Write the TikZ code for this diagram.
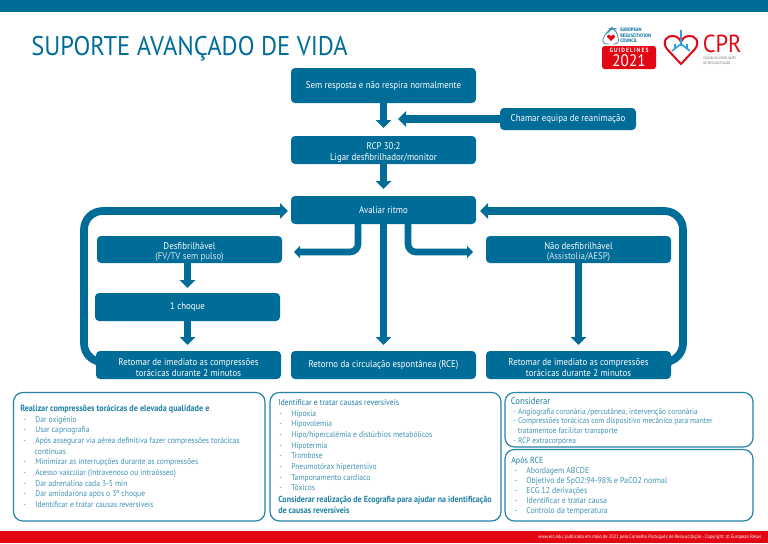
\documentclass[tikz,border=0pt]{standalone}
\usepackage{fontspec}
\setmainfont[FakeStretch=0.91]{PT Sans}
\usetikzlibrary{arrows.meta,calc}
\definecolor{ercblue}{HTML}{006C98}
\definecolor{ercred}{HTML}{E30613}
\definecolor{listblue}{HTML}{3F93B5}
\definecolor{headblue}{HTML}{1F7FA6}
\definecolor{skyblue}{HTML}{2F9FDC}
\tikzset{
 x=0.75pt,y=-0.75pt,
 flowbox/.style={fill=ercblue,rounded corners=3pt,text=white,align=center,inner sep=0pt,font=\fontsize{7.3}{7.8}\selectfont},
 listbox/.style={draw=ercblue!85!white,line width=0.9pt,rounded corners=7pt,fill=white},
 listtext/.style={text=listblue,anchor=north west,inner sep=0pt,align=left,font=\fontsize{6.25}{8}\selectfont},
 listhead/.style={text=headblue,anchor=north west,inner sep=0pt,align=left,font=\bfseries\fontsize{6.7}{8}\selectfont},
 flow/.style={draw=ercblue,line width=5.6pt,-{Triangle[width=11.5pt,length=6pt]}},
 loopflow/.style={draw=ercblue,line width=5.8pt,rounded corners=14pt,-{Triangle[width=11.5pt,length=6pt]}},
 branchflow/.style={draw=ercblue,line width=5pt,rounded corners=6pt,-{Triangle[width=9pt,length=4.5pt]}},
}
\newcommand{\flowboxat}[6]{\node[flowbox,minimum width=#4*0.75pt,minimum height=#5*0.75pt] (#1) at (#2,#3) {#6};}
\newcommand{\dashitem}{-\hspace{7pt}}
\newcommand{\tightitem}{-\hspace{1.6pt}}
\newcommand{\topfix}{\rule{0pt}{9pt}}
\begin{document}
\begin{tikzpicture}
\useasboundingbox (0,0) rectangle (768,543);
\fill[ercblue] (0,0) rectangle (768,12);
\node[anchor=base west,inner sep=0pt,text=ercblue,font=\fontsize{20.25}{22}\selectfont] (title) at (31,55.5) {SUPORTE AVANÇADO DE VIDA};
% ERC logo
\fill[ercred,rounded corners=2pt] (602,46) rectangle (656,69);
\node[text=white,inner sep=0pt,font=\bfseries\fontsize{4.6}{5}\selectfont\addfontfeature{LetterSpace=18}] (gl) at (629,50.5) {GUIDELINES};
\node[text=white,inner sep=0pt,font=\fontsize{12.5}{13}\selectfont] (yr) at (629,61) {2021};
\draw[draw=listblue,line width=0.6pt,rounded corners=3pt] (609,44) -- (602,44) -- (604,35) -- (610,30) -- (611,28.5) -- (613,28.5) -- (615,30) -- (618,35) -- (619,44) -- (613,44);
\fill[ercred] (611,41) -- (607,37) .. controls (607,34) and (610,34) .. (611,36) .. controls (612,34) and (615,34) .. (615,37) -- cycle;
\node[anchor=north west,inner sep=0pt,align=left,text=ercblue,font=\bfseries\fontsize{3.7}{4.2}\selectfont] (ercname) at (620,28) {EUROPEAN\\RESUSCITATION\\COUNCIL};
% CPR logo
\draw[draw=ercred,line width=1.5pt,line join=round] (681,64) -- (667,49) .. controls (661,41) and (668,35) .. (673,36) .. controls (677,36) and (680,39) .. (681,42) .. controls (682,39) and (685,36) .. (689,36) .. controls (694,35) and (701,41) .. (695,49) -- cycle;
\draw[draw=skyblue,line width=1.2pt] (681,30) -- (681,46) (681,44) -- (672,51) (681,44) -- (690,51) (675,44) -- (675,49) (687,44) -- (687,49);
\node[anchor=base west,inner sep=0pt,text=ercred,font=\fontsize{18.5}{18}\selectfont] (cprtxt) at (702.5,52.5) {CPR};
\node[anchor=north west,inner sep=0pt,align=left,text=black!60,font=\fontsize{2.6}{3.2}\selectfont] (cprsub) at (703,56.5) {CONSELHO PORTUGUÊS\\DE RESSUSCITAÇÃO};
\flowboxat{start}{383.5}{85.5}{185}{35}{Sem resposta e não respira normalmente}
\flowboxat{team}{568}{119}{136}{22}{Chamar equipa de reanimação}
\flowboxat{rcp}{383.5}{150}{185}{28}{\topfix RCP 30:2\\Ligar desfibrilhador/monitor}
\flowboxat{eval}{383.5}{210}{185}{28}{Avaliar ritmo}
\flowboxat{shock}{189.5}{249.5}{185}{27}{\topfix Desfibrilhável\\{\color{white!85!ercblue}(FV/TV sem pulso)}}
\flowboxat{one}{187.5}{307}{185}{28}{1 choque}
\flowboxat{resL}{188.5}{365}{185}{28}{\topfix Retomar de imediato as compressões\\torácicas durante 2 minutos}
\flowboxat{rce}{383.5}{365}{185}{28}{Retorno da circulação espontânea (RCE)}
\flowboxat{noshock}{578.5}{249.5}{185}{27}{\topfix Não desfibrilhável\\{\color{white!85!ercblue}(Assistolia/AESP)}}
\flowboxat{resR}{578.5}{365}{185}{28}{\topfix Retomar de imediato as compressões\\torácicas durante 2 minutos}
% free arrow tips
\coordinate (tipA) at (383.5,128);
\coordinate (tipTeam) at (398,119);
\coordinate (tipB) at (383.5,189);
\coordinate (tipC) at (187.5,288);
\coordinate (tipD) at (187.5,345);
\coordinate (tipE) at (383.5,345);
\coordinate (tipF) at (578.5,345);
\coordinate (tipG) at (288,211);
\coordinate (tipH) at (480,211);
\coordinate (tipI) at (294,252);
\coordinate (tipJ) at (473,252);
\coordinate (colI) at (358,224);
\coordinate (colJ) at (408,224);
\coordinate (loopL) at (84,300);
\coordinate (loopR) at (683,300);
\draw[flow] (start.south) -- (tipA);
\draw[flow] (team.west) -- (tipTeam);
\draw[flow] (rcp.south) -- (tipB);
\draw[flow] (shock.south -| tipC) -- (tipC);
\draw[flow] (one.south) -- (tipD);
\draw[flow] (eval.south) -- (tipE);
\draw[flow] (noshock.south) -- (tipF);
\draw[loopflow] (resL.west |- 0,362) -- (loopL |- 0,362) -- (loopL |- tipG) -- (tipG);
\draw[loopflow] (resR.east |- 0,362) -- (loopR |- 0,362) -- (loopR |- tipH) -- (tipH);
\draw[branchflow] (colI) |- (tipI);
\draw[branchflow] (colJ) |- (tipJ);
% lists
\draw[listbox] (13.5,392.5) rectangle (265,521);
\draw[listbox] (270,392.5) rectangle (501,521);
\draw[listbox] (505,392.5) rectangle (753,447);
\draw[listbox] (505,449.5) rectangle (753,521);
\node[listhead] (l0) at (20,405) {Realizar compressões torácicas de elevada qualidade e};
\node[listtext] (l1) at (23,416) {\dashitem Dar oxigénio\\\dashitem Usar capnografia\\\dashitem Após assegurar via aérea definitiva fazer compressões torácicas\\\hspace{8.6pt}continuas\\\dashitem Minimizar as interrupções durante as compressões\\\dashitem Acesso vascular (Intravenoso ou intraósseo)\\\dashitem Dar adrenalina cada 3-5 min\\\dashitem Dar amiodarona após o 3º choque\\\dashitem Identificar e tratar causas reversíveis};
\node[listhead,font=\fontsize{6.4}{8}\selectfont] (m0) at (278,399) {Identificar e tratar causas reversíveis};
\node[listtext] (m1) at (279,410) {\dashitem Hipoxia\\\dashitem Hipovolemia\\\dashitem Hipo/hipercalémia e distúrbios metabólicos\\\dashitem Hipotermia\\\dashitem Trombose\\\dashitem Pneumotórax hipertensivo\\\dashitem Tamponamento cardíaco\\\dashitem Tóxicos};
\node[listhead,font=\bfseries\fontsize{6.6}{8}\selectfont] (m2) at (278,496) {Considerar realização de Ecografia para ajudar na identificação\\de causas reversíveis};
\node[listhead,font=\fontsize{7.2}{8}\selectfont] (r0) at (510.5,397) {Considerar};
\node[listtext,font=\fontsize{6.1}{7.3}\selectfont] (r1) at (513,408) {\tightitem Angiografia coronária /percutânea, intervenção coronária\\\tightitem Compressões torácicas com dispositivo mecânico para manter\\\hspace{3.4pt}tratamentoe facilitar transporte\\\tightitem RCP extracorpórea};
\node[listhead,font=\fontsize{6.6}{8}\selectfont] (s0) at (511,456.5) {Após RCE};
\node[listtext,font=\fontsize{6.4}{7.45}\selectfont] (s1) at (514,467) {\dashitem Abordagem ABCDE\\\dashitem Objetivo de SpO2:94-98\% e PaCO2 normal\\\dashitem ECG 12 derivações\\\dashitem Identificar e tratar causa\\\dashitem Controlo da temperatura};
% footer
\fill[ercred] (0,531) rectangle (768,543);
\node[anchor=west,inner sep=0pt,text=white,font=\fontsize{3.7}{4}\selectfont] (foot) at (538,537) {www.erc.edu; publicado em maio de 2021 pelo Conselho Português de Ressuscitação - Copyright: © European Resus};
\end{tikzpicture}
\end{document}
